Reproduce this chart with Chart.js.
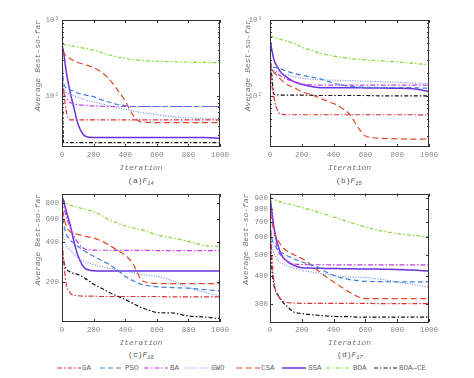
<!DOCTYPE html>
<html><head><meta charset="utf-8">
<script src="https://cdn.jsdelivr.net/npm/chart.js@4"></script>
<style>
html,body{margin:0;padding:0;background:#fff;}
body{width:474px;height:378px;position:relative;overflow:hidden;font-family:"Liberation Mono",monospace;}
canvas{position:absolute;}
.cap{position:absolute;font-size:8px;line-height:10px;color:#555;transform:translateX(-50%);white-space:nowrap;}
.cap i{font-style:italic;}
.cap sub{font-size:5.5px;font-style:italic;vertical-align:-2px;}
.lg{position:absolute;font-size:7.5px;line-height:8px;color:#666;white-space:nowrap;}
.lgl{position:absolute;}
</style>
</head><body>
<canvas id="cA" width="237" height="178" style="left:0px;top:0px"></canvas>
<canvas id="cB" width="237" height="178" style="left:237px;top:0px"></canvas>
<canvas id="cC" width="237" height="172" style="left:0px;top:178px"></canvas>
<canvas id="cD" width="237" height="172" style="left:237px;top:178px"></canvas>
<div class="cap" style="left:141px;top:176px">(a)<i>F</i><sub>14</sub></div>
<div class="cap" style="left:349px;top:176px">(b)<i>F</i><sub>15</sub></div>
<div class="cap" style="left:141px;top:350px">(c)<i>F</i><sub>16</sub></div>
<div class="cap" style="left:350px;top:350px">(d)<i>F</i><sub>17</sub></div>
<div id="legend"></div>
<script>
// ---------------- DATA ----------------
const iterations = [0,10,25,50,75,100,150,200,250,300,350,400,450,500,550,600,700,800,900,1000];
const seriesNames = ['GA','PSO','BA','GWO','CSA','SSA','BOA','BOA—CE'];
const xTicks = [0,200,400,600,800,1000];
const yTicksAB = [30,40,50,60,70,80,90,100,200,300,400,500,600,700,800,900,1000];
const yLabelsAB = {100:'10²',1000:'10³'};
const yTicksC = [200,400,600,800];
const yTicksD = [300,400,500,600,700,800,900];

// Panel (a) F14
const a_GA    = [170,120,65,48,48,48,48,48,48,48,48,48,48,48,48,48,48,48,48,47.7];
const a_PSO   = [300,150,128,120,114,108,102,97,88,82,77,74,72,72,72,72,72,72,72,72];
const a_BA    = [150,110,95,82,78,76,74,73,72.5,72,72,72,72,72,72,72,72,72,72,72];
const a_GWO   = [200,130,112,105,100,95,88,83,78,73,69,66,63,60,58,56,53,51,50,49];
const a_CSA   = [390,370,340,310,290,275,255,235,205,165,120,85,55,45,44.5,44,44,44,44,44];
const a_SSA   = [470,380,220,115,70,43,29,28,28,28,28,28,28,28,28,28,28,28,28,27.5];
const a_BOA   = [480,476,470,460,450,440,420,400,372,345,325,310,300,292,288,285,281,278,275,272];
const a_BOACE = [200,24,24,24,24,24,24,24,24,24,24,24,24,24,24,24,24,24,24,23.9];

// Panel (b) F15
const b_GA    = [260,150,95,63,58,57,57,57,57,57,57,57,57,57,57,57,57,57,57,56.5];
const b_PSO   = [300,250,240,235,225,215,200,188,180,172,160,148,140,135,132,131,130,130,129,127];
const b_BA    = [240,225,210,195,180,170,155,145,141,140,140,140,140,140,140,140,140,140,140,139];
const b_GWO   = [260,225,215,210,200,192,180,172,168,165,163,162,161,160,159,157,155,152,149,145];
const b_CSA   = [280,230,205,180,160,145,130,115,106,97,88,80,70,58,40,30,28,27.5,27.3,27.3];
const b_SSA   = [560,420,300,235,198,180,155,143,135,130,129,129,129,129,129,128,128,127,125,115];
const b_BOA   = [605,600,590,570,550,535,490,440,405,375,352,335,322,312,305,300,290,282,270,258];
const b_BOACE = [360,200,106,104,103,103,103,103,103,102,102,102,102,102,102,102,101,101,101,101];

// Panel (c) F16
const c_GA    = [420,300,199,167,160,158,157,157,156,156,156,156,156,156,156,156,155,155,155,155];
const c_PSO   = [700,560,470,419,395,374,340,314,292,272,247,222,205,193,188,185,182,180,176,172];
const c_BA    = [840,750,640,527,450,398,355,350,349,349,348,348,348,348,348,347,347,347,347,347];
const c_GWO   = [600,450,380,353,325,305,285,272,262,255,249,243,236,229,225,222,205,182,168,158];
const c_CSA   = [820,640,540,484,470,460,445,432,410,380,350,320,275,210,198,196,195,195,195,195];
const c_SSA   = [880,830,700,550,410,320,252,244,243,243,243,243,243,243,243,243,243,243,243,243];
const c_BOA   = [850,830,800,770,750,738,710,685,640,593,560,534,515,500,478,457,432,407,379,374];
const c_BOACE = [340,290,255,240,233,229,212,193,180,167,157,148,138,129,123,118,117,111,109,106];

// Panel (d) F17
const d_GA    = [770,520,380,330,313,307,304,303,303,303,303,303,303,303,303,303,302,302,302,302];
const d_PSO   = [700,600,560,524,510,498,480,465,452,440,420,404,394,387,383,380,379,378,378,378];
const d_BA    = [880,780,640,524,490,472,455,452,451,451,451,450,450,450,450,450,450,450,450,450];
const d_GWO   = [650,560,510,472,458,448,436,426,420,414,409,404,400,398,396,395,388,378,368,358];
const d_CSA   = [850,720,640,580,545,524,500,481,455,426,400,378,358,340,325,318,318,318,318,318];
const d_SSA   = [910,800,660,550,495,472,448,437,436,435,434,434,433,433,432,432,431,430,427,423];
const d_BOA   = [910,900,885,870,858,849,832,815,795,776,757,738,719,700,683,666,640,622,611,600];
const d_BOACE = [600,450,365,330,310,297,277,273,270,268,266,265,264,264,263,263,263,263,263,263];

// ---------------- STYLE ----------------
const colors = ['#e0303c','#3c7ee0','#c43ce8','#7a8cf0','#e04828','#6a30e0','#86d838','#111111'];
const dashes = [[5,2,1.5,2],[5,3],[5,2,1.5,2],[1,1.5],[6,3.5],[],[4,2,1.5,2],[4,2,1.5,2]];
const widths = [1.2,1.2,1.2,1.2,1.2,1.5,1.2,1.2];
const tickFont = {family:'"Liberation Mono", monospace', size:7.5};
const titleFont = {family:'"Liberation Mono", monospace', size:8, style:'italic', lineHeight:1.2};

const framePlugin = {
  id:'frame',
  afterDatasetsDraw(chart){
    const {ctx, chartArea:a, scales:{x,y}} = chart;
    ctx.save();
    ctx.strokeStyle='#333'; ctx.lineWidth=1; ctx.setLineDash([]);
    ctx.strokeRect(Math.round(a.left)+0.5, Math.round(a.top)+0.5, Math.round(a.right-a.left)-1, Math.round(a.bottom-a.top)-1);
    ctx.beginPath();
    x.ticks.forEach(t=>{
      const px = Math.round(x.getPixelForValue(t.value))+0.5;
      ctx.moveTo(px,a.bottom); ctx.lineTo(px,a.bottom-3);
      ctx.moveTo(px,a.top); ctx.lineTo(px,a.top+3);
    });
    y.ticks.forEach(t=>{
      const py = Math.round(y.getPixelForValue(t.value))+0.5;
      if (py < a.top-0.5 || py > a.bottom+0.5) return;
      const len = t.label ? 3 : 2;
      ctx.moveTo(a.left,py); ctx.lineTo(a.left+len,py);
      ctx.moveTo(a.right,py); ctx.lineTo(a.right-len,py);
    });
    ctx.stroke();
    ctx.restore();
  }
};

function makePanel(id, values, cfg){
  const datasets = seriesNames.map((n,i)=>({
    label:n,
    data: iterations.map((xv,j)=>({x:xv, y:values[i][j]})),
    borderColor:colors[i], borderDash:dashes[i], borderWidth:widths[i],
    pointRadius:0, fill:false, cubicInterpolationMode:'monotone'
  }));
  new Chart(document.getElementById(id), {
    type:'line',
    data:{datasets},
    options:{
      responsive:false, animation:false, devicePixelRatio:1,
      layout:{padding:cfg.pad},
      plugins:{legend:{display:false}, tooltip:{enabled:false}},
      scales:{
        x:{type:'linear', min:0, max:1000,
           afterBuildTicks:s=>{s.ticks = xTicks.map(v=>({value:v}));},
           afterFit:s=>{s.height = cfg.xh;},
           grid:{display:false, drawTicks:false}, border:{display:false},
           ticks:{font:tickFont, color:'#888', padding:3.5, maxRotation:0, autoSkip:false, callback:v=>String(v)},
           title:{display:true, text:'Iteration', font:titleFont, color:'#777', padding:{top:0,bottom:cfg.xtp}}},
        y:{type:'logarithmic', min:cfg.ymin, max:cfg.ymax,
           afterBuildTicks:s=>{s.ticks = cfg.yticks.filter(v=>v>=cfg.ymin&&v<=cfg.ymax).map(v=>({value:v}));},
           afterFit:s=>{s.width = cfg.yw;},
           grid:{display:false, drawTicks:false}, border:{display:false},
           ticks:{font:tickFont, color:'#888', padding:cfg.ypad, autoSkip:false, callback:cfg.ylabel},
           title:{display:true, text:'Average Best-so-far', align:'end', font:titleFont, color:'#777', padding:{top:cfg.ytp,bottom:0}}}
      }
    },
    plugins:[framePlugin]
  });
}

const labAB = v => yLabelsAB[v] || '';
const labNum = v => String(v);

makePanel('cA', [a_GA,a_PSO,a_BA,a_GWO,a_CSA,a_SSA,a_BOA,a_BOACE],
  {pad:{left:0,top:20,right:17,bottom:0}, xh:31, xtp:5.2, yw:62, ytp:33.2, ypad:3, ymin:21, ymax:1000, yticks:yTicksAB, ylabel:labAB});
makePanel('cB', [b_GA,b_PSO,b_BA,b_GWO,b_CSA,b_SSA,b_BOA,b_BOACE],
  {pad:{left:0,top:20,right:45,bottom:0}, xh:31, xtp:5.2, yw:33, ytp:6.2, ypad:8, ymin:21.5, ymax:1000, yticks:yTicksAB, ylabel:labAB});
makePanel('cC', [c_GA,c_PSO,c_BA,c_GWO,c_CSA,c_SSA,c_BOA,c_BOACE],
  {pad:{left:0,top:16,right:17,bottom:0}, xh:28, xtp:2.2, yw:62, ytp:33.2, ypad:3, ymin:100, ymax:930, yticks:yTicksC, ylabel:labNum});
makePanel('cD', [d_GA,d_PSO,d_BA,d_GWO,d_CSA,d_SSA,d_BOA,d_BOACE],
  {pad:{left:0,top:15.5,right:45,bottom:0}, xh:28, xtp:2.2, yw:33, ytp:4.2, ypad:2, ymin:250, ymax:940, yticks:yTicksD, ylabel:labNum});

// ---------------- LEGEND ----------------
const lineX = [57,100,144,185,236,282,326,374];
const textX = [82,125,170,211,261,308,353,399];
const legY = 368;
const leg = document.getElementById('legend');
seriesNames.forEach((n,i)=>{
  const svgNS='http://www.w3.org/2000/svg';
  const svg=document.createElementNS(svgNS,'svg');
  svg.setAttribute('width','24'); svg.setAttribute('height','6');
  svg.setAttribute('class','lgl');
  svg.style.left=lineX[i]+'px'; svg.style.top=(legY-3)+'px';
  const ln=document.createElementNS(svgNS,'line');
  ln.setAttribute('x1','0'); ln.setAttribute('y1','3'); ln.setAttribute('x2','24'); ln.setAttribute('y2','3');
  ln.setAttribute('stroke',colors[i]); ln.setAttribute('stroke-width',String(widths[i]));
  if (dashes[i].length) ln.setAttribute('stroke-dasharray',dashes[i].join(' '));
  svg.appendChild(ln); leg.appendChild(svg);
  const t=document.createElement('div'); t.className='lg'; t.textContent=n;
  t.style.left=textX[i]+'px'; t.style.top=(legY-4)+'px';
  leg.appendChild(t);
});
</script>
</body></html>
